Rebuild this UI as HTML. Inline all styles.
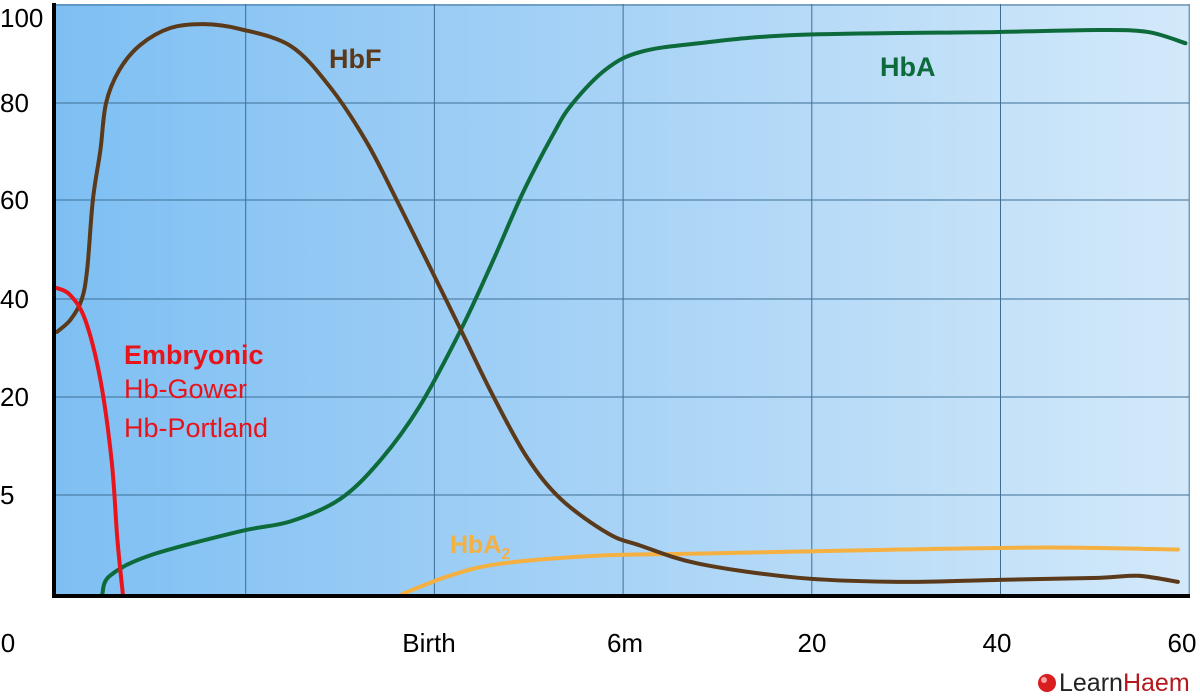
<!DOCTYPE html>
<html><head><meta charset="utf-8"><style>
body{margin:0;background:#fff;font-family:"Liberation Sans",sans-serif}
svg text{font-family:"Liberation Sans","DejaVu Sans",sans-serif}
</style></head><body>
<svg id="chart" width="1200" height="694" viewBox="0 0 1200 694">
<defs><linearGradient id="bg" x1="0" x2="1" y1="0" y2="0"><stop offset="0" stop-color="#7ebff3"/><stop offset="0.5" stop-color="#a8d3f6"/><stop offset="1" stop-color="#d3e9fa"/></linearGradient></defs>
<rect x="56" y="4" width="1133" height="592" fill="url(#bg)"/>
<g id="grid"></g><g id="ticks"></g><g id="series"></g>
<line x1="54" y1="3" x2="54" y2="598" stroke="#000" stroke-width="4"/>
<line x1="52" y1="596" x2="1190" y2="596" stroke="#000" stroke-width="4"/>
<text x="329" y="68" font-size="27" font-weight="bold" fill="#5a3a1a">HbF</text>
<text x="880" y="76" font-size="27" font-weight="bold" fill="#0d6a3a">HbA</text>
<text x="450" y="553" font-size="25" font-weight="bold" fill="#f5b042">HbA<tspan font-size="16" dy="6">2</tspan></text>
<text x="124" y="364" font-size="27" font-weight="bold" fill="#e8141b">Embryonic</text>
<text x="124" y="398" font-size="27" fill="#e8141b">Hb-Gower</text>
<text x="124" y="437" font-size="27" fill="#e8141b">Hb-Portland</text>
<g>
<circle cx="1047" cy="683" r="9" fill="#d81e1e"/><circle cx="1044" cy="680" r="3" fill="#f9a0a0"/>
<text x="1059" y="691" font-size="25" font-family="Liberation Serif,serif" fill="#222">Learn<tspan fill="#b5181e">Haem</tspan></text>
</g>
</svg>
<script>
const yTicks=[0,5,20,40,60,80,100];
const yTickLabels=["","5","20","40","60","80","100"];
const xTickLabels=["0","","Birth","6m","20","40","60"];
const hbfX=[0,.07,.13,.16,.19,.23,.26,.33,.44,.60,.78,.97,1.24,1.45,1.64,1.80,1.96,2.14,2.31,2.49,2.67,2.92,3.09,3.40,3.93,4.46,4.99,5.52,5.73,5.94];
const hbfY=[33.3,35.7,39.8,46,60,70.3,80,86.7,91.8,95.3,96.1,95.1,91.6,83.1,72.0,60,47.7,33.7,20.3,10.8,4.8,3.1,2.5,1.6,0.9,0.7,0.8,0.9,1.0,0.7];
const hbaX=[.24,.28,.49,.97,1.24,1.50,1.71,1.92,2.14,2.31,2.47,2.63,2.73,2.91,3.09,3.40,3.93,4.99,5.52,5.78,5.98];
const hbaY=[0.1,1.0,2.0,3.2,3.7,4.8,10.2,18.5,33.7,47.7,61.6,73.6,79.8,86.9,90.4,92.2,93.9,94.5,94.9,94.5,92.2];
const embX=[0,.07,.15,.23,.29,.32,.35];
const embY=[42.2,40.8,35.7,23.5,10.1,2.8,0];
const hba2X=[1.83,2.08,2.35,2.87,3.40,4.46,5.25,5.94];
const hba2Y=[0.1,1.0,1.6,2.0,2.1,2.3,2.4,2.3];
const yPix=[596,495,397,299,200,103,5];
const xLabelCenters=[8,0,429,625,812,997,1182];
function xs(v){return 57+v*188.7;}
function ys(v){for(let i=0;i<yTicks.length-1;i++){if(v<=yTicks[i+1]||i==yTicks.length-2){const t=(v-yTicks[i])/(yTicks[i+1]-yTicks[i]);return yPix[i]+t*(yPix[i+1]-yPix[i]);}}}
const NS="http://www.w3.org/2000/svg";
const grid=document.getElementById('grid'),ticks=document.getElementById('ticks'),series=document.getElementById('series');
yTicks.forEach((t,i)=>{
 const l=document.createElementNS(NS,'line');
 
 
 l.setAttribute('x1',56);l.setAttribute('x2',1189);l.setAttribute('y1',ys(t));l.setAttribute('y2',ys(t));
 l.setAttribute('stroke','#3d6f96');l.setAttribute('stroke-width','1');grid.appendChild(l);
 const tx=document.createElementNS(NS,'text');
 
 
 tx.setAttribute('x',0);tx.setAttribute('y',Math.max(ys(t)+9,27));tx.setAttribute('font-size','26');tx.textContent=yTickLabels[i];ticks.appendChild(tx);
});
xTickLabels.forEach((s,i)=>{
 if(i>0){const l=document.createElementNS(NS,'line');
 
 
 l.setAttribute('x1',xs(i));l.setAttribute('x2',xs(i));l.setAttribute('y1',4);l.setAttribute('y2',596);
 l.setAttribute('stroke','#3d6f96');l.setAttribute('stroke-width','1');grid.appendChild(l);}
 const tx=document.createElementNS(NS,'text');
 
 
 tx.setAttribute('x',xLabelCenters[i]);tx.setAttribute('text-anchor','middle');tx.setAttribute('y',652);tx.setAttribute('font-size','26');tx.textContent=s;ticks.appendChild(tx);
});
function path(X,Y){const p=X.map((x,i)=>[xs(x),ys(Y[i])]);let d='M'+p[0][0]+','+p[0][1];
 for(let i=0;i<p.length-1;i++){const p0=p[i-1]||p[i],p1=p[i],p2=p[i+1],p3=p[i+2]||p2;
 d+=' C'+(p1[0]+(p2[0]-p0[0])/6)+','+(p1[1]+(p2[1]-p0[1])/6)+' '+(p2[0]-(p3[0]-p1[0])/6)+','+(p2[1]-(p3[1]-p1[1])/6)+' '+p2[0]+','+p2[1];}
 return d;}
function draw(X,Y,c,n){const e=document.createElementNS(NS,'path');
 
 
 e.setAttribute('d',path(X,Y));e.setAttribute('fill','none');e.setAttribute('stroke',c);e.setAttribute('stroke-width','4');e.setAttribute('stroke-linecap','round');series.appendChild(e);}
draw(hba2X,hba2Y,'#f5b042','hba2-line');
draw(hbaX,hbaY,'#0d6a3a','hba-line');
draw(hbfX,hbfY,'#5a3a1a','hbf-line');
draw(embX,embY,'#e8141b','embryonic-line');
</script>
</body></html>
